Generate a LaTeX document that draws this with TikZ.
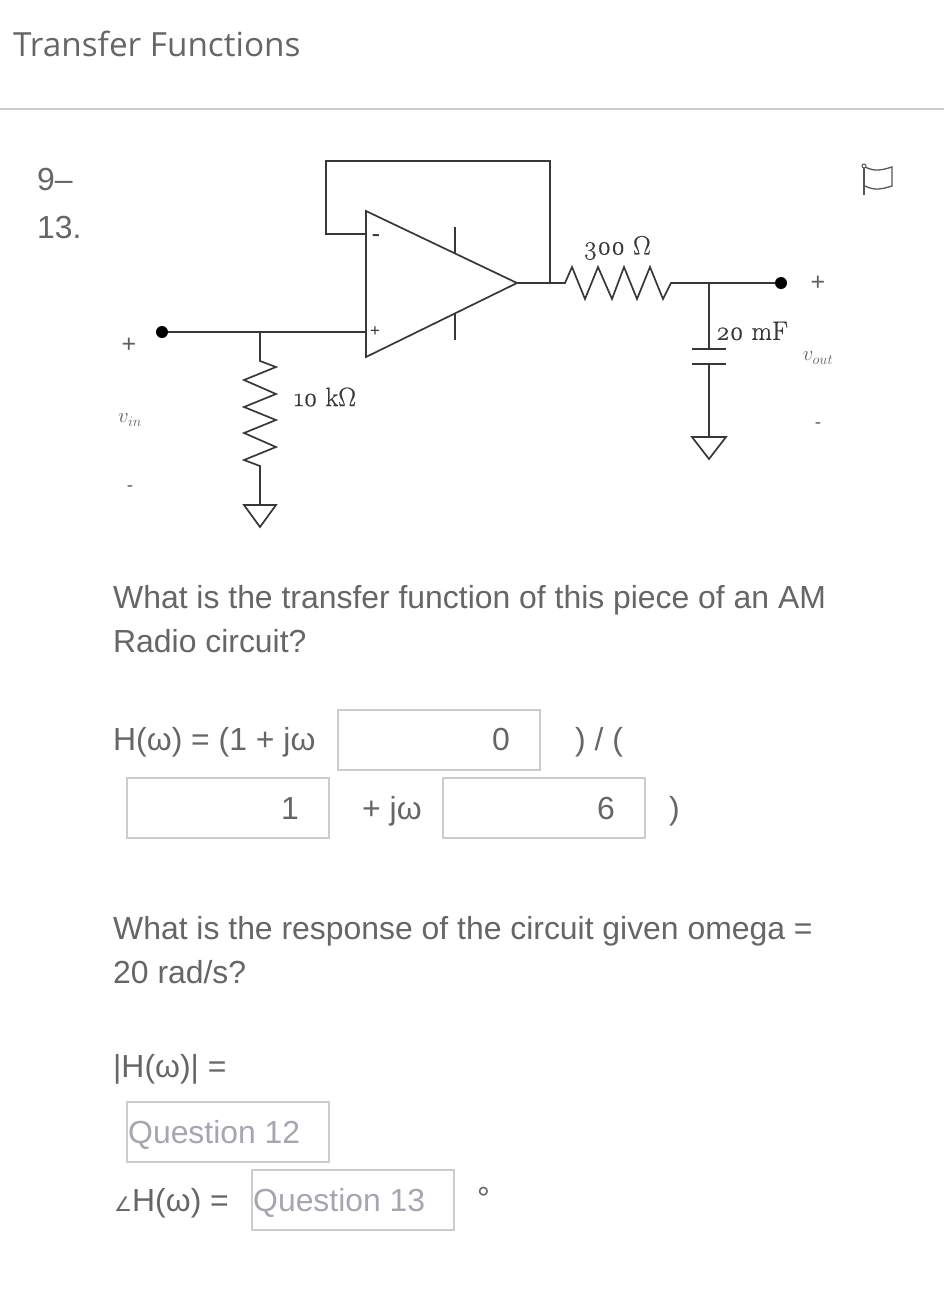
\documentclass[tikz,border=0pt]{standalone}
\usepackage{fontspec}
\setmainfont{Liberation Sans}
\newfontfamily\headfont{Open Sans}
\newfontfamily\symfont{DejaVu Sans}
\newfontfamily\compfont[Numbers=OldStyle,FakeBold=0.5]{Latin Modern Roman}
\definecolor{txt}{HTML}{666666}
\definecolor{hint}{HTML}{A6A6AE}
\definecolor{rule}{HTML}{CCCCCC}
\definecolor{wire}{HTML}{383838}
\tikzset{
  x=1pt,y=-1pt,
  lbl/.style={anchor=base west,inner sep=0pt,text=txt,font=\fontsize{31.9}{32}\selectfont},
  lblr/.style={anchor=base east,inner sep=0pt,text=txt,font=\fontsize{31.9}{32}\selectfont},
  hintlbl/.style={anchor=base west,inner sep=0pt,text=hint,font=\fontsize{31.9}{32}\selectfont},
  answer/.style={draw=rule,line width=1.6pt,fill=white,anchor=north west,minimum width=#1,minimum height=60pt,inner sep=0pt,outer sep=0pt},
  answer/.default=202pt,
  wiring/.style={draw=wire,line width=1.7pt,line join=miter},
  comp/.style={inner sep=0pt,text=wire,font=\compfont\fontsize{26.5}{26.5}\selectfont},
  sign/.style={inner sep=0pt,text=wire!80,font=\fontsize{19}{19}\selectfont},
  bigsign/.style={inner sep=0pt,text=wire!80,font=\fontsize{25}{25}\selectfont},
  opsign/.style={inner sep=0pt,text=wire,font=\fontsize{20}{20}\selectfont},
  vlabel/.style={inner sep=0pt,text=wire!80,font=\fontsize{21}{21}\selectfont},
  terminal/.style={circle,fill=black,inner sep=0pt,minimum size=12pt,outer sep=0pt},
}
\begin{document}
\begin{tikzpicture}
\useasboundingbox (0,0) rectangle (944,1294);
\fill[white] (0,0) rectangle (944,1294);

% header
\node[anchor=base west,inner sep=0pt,text=txt,font=\headfont\fontsize{33.3}{33.3}\selectfont] (title) at (13,56) {Transfer Functions};
\coordinate (ruleL) at (0,109); \coordinate (ruleR) at (944,109);
\draw[rule,line width=1.6pt] (ruleL) -- (ruleR);
\node[lbl] (num1) at (37,190) {9–};
\node[lbl] (num2) at (37,238) {13.};

% op-amp
\coordinate (oaTL) at (366,211);
\coordinate (oaBL) at (366,357);
\coordinate (oaTip) at (517,283);
\coordinate (inNeg) at (366,234);
\coordinate (inPos) at (366,332);
\coordinate (railT) at (455,227);
\coordinate (railTe) at (455,254);
\coordinate (railB) at (455,313);
\coordinate (railBe) at (455,340);
\draw[wiring] (oaTL) -- (oaTip) -- (oaBL) -- cycle;
\draw[wiring] (railT) -- (railTe);
\draw[wiring] (railB) -- (railBe);
\node[opsign,font=\fontsize{26}{26}\selectfont] (minusIn) at (376,239) {-};
\node[opsign,font=\fontsize{17}{17}\selectfont] (plusIn) at (375,332) {+};

% feedback
\coordinate (fbA) at (326,234);
\coordinate (fbB) at (326,161);
\coordinate (fbC) at (550,161);
\coordinate (fbD) at (550,283);
\draw[wiring] (inNeg) -- (fbA) -- (fbB) -- (fbC) -- (fbD);

% input side
\node[terminal] (vinDot) at (162,332) {};
\coordinate (jIn) at (260,332);
\draw[wiring] (vinDot) -- (inPos);
\coordinate (r1top) at (260,361);
\coordinate (r1bot) at (260,466);
\coordinate (g1) at (260,505);
\draw[wiring] (jIn) -- (r1top) -- (276,367) -- (244,380) -- (276,394) -- (244,407) -- (276,420) -- (244,433) -- (276,447) -- (244,460) -- (r1bot) -- (g1);
\draw[wiring] (244,505) -- (276,505) -- (260,527) -- cycle;
\node[comp] (r1lab) at (325,397) {10 kΩ};
\node[bigsign] (vinP) at (129,345) {+};
\node[vlabel] (vin) at (130,420) {$\mathnormal{v}_{\mathnormal{in}}$};
\node[sign] (vinM) at (130,489) {-};

% output side
\coordinate (r2l) at (565,283);
\coordinate (r2r) at (671,283);
\coordinate (jOut) at (709,283);
\node[terminal] (voutDot) at (781,283) {};
\draw[wiring] (oaTip) -- (r2l) -- (572,267) -- (585,299) -- (598,267) -- (612,299) -- (624,267) -- (637,299) -- (650,267) -- (663,299) -- (r2r) -- (voutDot);
\node[comp] (r2lab) at (617,248) {300 Ω};
\coordinate (c1) at (709,349);
\coordinate (c2) at (709,364);
\coordinate (g2) at (709,437);
\draw[wiring] (jOut) -- (c1);
\draw[wiring] (c2) -- (g2);
\draw[wiring,line width=2pt] (692,349) -- (726,349);
\draw[wiring,line width=2pt] (692,364) -- (726,364);
\draw[wiring] (692,437) -- (726,437) -- (709,459) -- cycle;
\node[comp] (clab) at (752,331) {20 mF};
\node[bigsign] (voutP) at (818,283) {+};
\node[vlabel] (vout) at (818,358) {$\mathnormal{v}_{\mathnormal{out}}$};
\node[sign] (voutM) at (818,426) {-};

% flag
\coordinate (flagTop) at (864,166);
\coordinate (flagBot) at (864,195);
\draw[wire!85,line width=1.3pt] (flagTop) -- (flagBot);
\draw[wire!85,line width=1.3pt] (865,167) .. controls (875,172) and (882,170) .. (892,167) -- (892,186) .. controls (882,189) and (875,191) .. (865,186);
\draw[wire!85,line width=1pt,fill=white] (flagTop) circle (2pt);

% question 1
\node[lbl] (q1a) at (113,608) {What is the transfer function of this piece of an AM};
\node[lbl] (q1b) at (113,652) {Radio circuit?};
\node[lbl] (hw) at (113,750) {H(ω) = (1 + jω};
\node[answer] (box1) at (338,710) {};
\node[lblr] (ans1) at (510,750) {0};
\node[lbl] (div) at (575,750) {) / (};
\node[answer] (box2) at (127,778) {};
\node[lblr] (ans2) at (299,819) {1};
\node[lbl] (pj) at (362,819) {+ jω};
\node[answer] (box3) at (443,778) {};
\node[lblr] (ans3) at (615,819) {6};
\node[lbl] (close) at (669,819) {)};

% question 2
\node[lbl] (q2a) at (113,939) {What is the response of the circuit given omega =};
\node[lbl] (q2b) at (113,983) {20 rad/s?};
\node[lbl] (mag) at (113,1077) {|H(ω)| =};
\node[answer] (box4) at (127,1102) {};
\node[hintlbl] (hint12) at (128,1143) {Question 12};
\node[anchor=base west,inner sep=0pt,text=txt,font=\symfont\fontsize{20}{20}\selectfont] (angle) at (114,1211) {∠};
\node[lbl] (phase) at (132,1211) {H(ω) =};
\node[answer] (box5) at (252,1170) {};
\node[hintlbl] (hint13) at (253,1211) {Question 13};
\node[lbl] (deg) at (477,1209) {°};
\end{tikzpicture}
\end{document}
